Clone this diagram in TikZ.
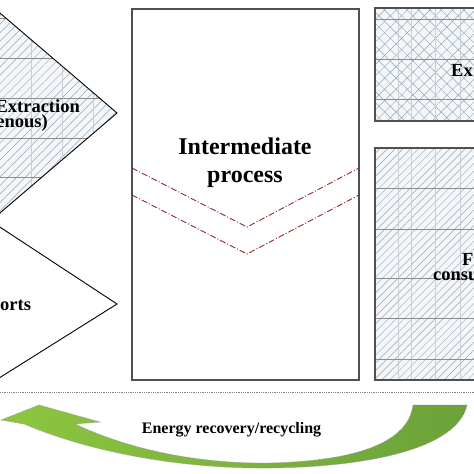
\documentclass[tikz,border=0pt]{standalone}
\usepackage{fontspec}
\setmainfont{Liberation Serif}
\usetikzlibrary{patterns.meta}

\definecolor{hatchbg}{HTML}{F4F7FA}
\definecolor{hatchln}{HTML}{9AA4AE}
\definecolor{gridv}{HTML}{C9D0D7}
\definecolor{gridh}{HTML}{8C8C8C}
\definecolor{boxln}{HTML}{505050}
\definecolor{veeln}{HTML}{8E2B2B}
\definecolor{greenL}{HTML}{8DC63F}
\definecolor{greenR}{HTML}{6BA23A}

\tikzset{
	lbl/.style={font=\bfseries\fontsize{18.5}{18.5}\selectfont, inner sep=0pt, anchor=base west},
	hatch/.style 2 args={pattern={Lines[angle=#1, distance=#2, line width=0.45pt]}, pattern color=hatchln},
	vee/.style={veeln, line width=0.9pt, dash pattern=on 6pt off 2pt on 1pt off 2pt},
	box/.style={boxln, line width=1.4pt},
}

\begin{document}
\begin{tikzpicture}[x=1pt, y=-1pt]
	\useasboundingbox (0,0) rectangle (474,474);
	\coordinate (Xt) at (117,113);
	\coordinate (It) at (117,304);

	% extraction
	\fill[hatchbg] (-20,-4) -- (Xt) -- (-20,230) -- cycle;
	\begin{scope}
		\clip (-20,-4) -- (Xt) -- (-20,230) -- cycle;
		\fill[hatch={45}{6pt}] (-20,-4) rectangle (120,230);
		\foreach \x in {31,62,93} \draw[gridv, line width=0.5pt] (\x,-4) -- (\x,230);
		\foreach \y in {18,58,98,138,177} \draw[gridh, line width=0.5pt] (-20,\y) -- (120,\y);
	\end{scope}
	\draw[line width=0.9pt] (-20,-4) -- (Xt) -- (-20,230);
	\node[lbl, anchor=base east] (extr) at (80,112) {Extraction};
	\node[lbl, anchor=base east] (indi) at (48,127) {enous)};

	% imports
	\draw[line width=0.9pt, fill=white] (-20,214) -- (It) -- (-20,390);
	\node[lbl] (imp) at (0,310) {orts};

	% intermediate process
	\draw[box] (132,9) rectangle (359,380);
	\draw[vee] (132,168) -- (247,227) -- (359,168);
	\draw[vee] (132,195) -- (247,254) -- (359,195);
	\node[font=\bfseries\fontsize{24}{28}\selectfont, align=center, inner sep=0pt] (proc) at (245,162.5) {Intermediate\\process};

	% exports
	\fill[hatchbg] (375,8) rectangle (480,121);
	\begin{scope}
		\clip (375,8) rectangle (480,121);
		\fill[hatch={45}{8pt}] (375,8) rectangle (480,121);
		\fill[hatch={-45}{8pt}] (375,8) rectangle (480,121);
		\foreach \x in {398,411,435,460} \draw[gridv, line width=0.5pt] (\x,8) -- (\x,121);
		\foreach \y in {19,59,99} \draw[gridh, line width=0.5pt] (375,\y) -- (480,\y);
	\end{scope}
	\draw[box] (375,8) rectangle (480,121);
	\node[lbl] (exp) at (451,76) {Ex};

	% final consumption
	\fill[hatchbg] (375,148) rectangle (480,380);
	\begin{scope}
		\clip (375,148) rectangle (480,380);
		\fill[hatch={45}{5.5pt}] (375,148) rectangle (480,380);
		\foreach \x in {398,411,435,460} \draw[gridv, line width=0.5pt] (\x,148) -- (\x,380);
		\foreach \y in {188,229,278,318,359} \draw[gridh, line width=0.5pt] (375,\y) -- (480,\y);
	\end{scope}
	\draw[box] (375,148) rectangle (480,380);
	\node[lbl] (fin) at (462,265) {F};
	\node[lbl] (cons) at (433,280) {consu};

	% recovery
	\draw[gray, densely dotted, line width=0.8pt] (0,392) -- (474,392);
	\path[left color=greenL, right color=greenR, draw=gray!80, densely dotted, line width=0.7pt]
		(1,420) -- (39,405) -- (100,422) -- (75,424)
		.. controls (130,450) and (200,464) .. (270,463)
		.. controls (350,461) and (408,445) .. (413,405)
		-- (467,405)
		.. controls (458,448) and (370,467) .. (270,468)
		.. controls (180,469) and (90,452) .. (24,424) -- cycle;
	\node[font=\bfseries\fontsize{16}{16}\selectfont, anchor=base, inner sep=0pt] (rec) at (231.5,433) {Energy recovery/recycling};
\end{tikzpicture}
\end{document}
